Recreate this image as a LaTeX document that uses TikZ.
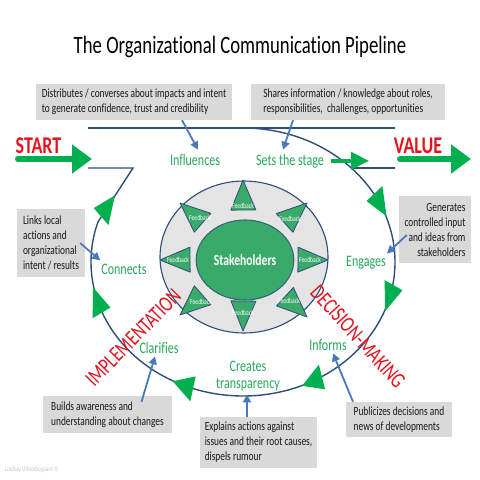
\documentclass[tikz,border=0pt]{standalone}
\usepackage{fontspec}
\setmainfont{Carlito}[FakeStretch=0.75, Ligatures=NoCommon]
\usetikzlibrary{arrows.meta,shapes.geometric}
\definecolor{lineblue}{HTML}{2E4D7B}
\definecolor{arrblue}{HTML}{4A78BE}
\definecolor{arrgreen}{HTML}{00B050}
\definecolor{labgreen}{HTML}{27A85A}
\definecolor{trigreen}{HTML}{3AAA6A}
\definecolor{textred}{HTML}{E3141E}
\definecolor{boxgray}{HTML}{D9D9D9}
\definecolor{ellgray}{HTML}{E4E4E4}
\begin{document}
\begin{tikzpicture}[x=1pt,y=-1pt,
 lbl/.style={text=labgreen, font=\fontsize{16}{17.5}\selectfont, inner sep=1pt},
 infobox/.style={fill=boxgray, text=black!90, align=left, inner sep=0pt, font=\fontsize{12.5}{15}\selectfont},
 barrow/.style={draw=arrblue, line width=1.8pt, -{Triangle[length=8pt,width=8pt]}},
 pipe/.style={draw=lineblue, line width=1.4pt},
 bigarrow/.style={draw=arrgreen, line width=6pt, line cap=round, -{Triangle[length=20pt,width=28pt]}},
 midarrow/.style={draw=arrgreen, line width=4pt, -{Triangle[length=18pt,width=17pt]}},
 redtxt/.style={text=textred, font=\fontsize{22.5}{24}\selectfont, inner sep=0pt},
 fbtext/.style={text=white, font=\fontsize{7.5}{8}\selectfont, inner sep=0pt},
 fbtri/.style={fill=trigreen, draw=lineblue, line width=0.8pt, line join=round},
]
\useasboundingbox[fill=white] (0,0) rectangle (480,480);

% title
\node[anchor=base, font=\fontsize{25}{30}\selectfont] (title) at (240,53) {The Organizational Communication Pipeline};

% pipe / big ellipse
\draw[pipe] (88,128) -- (395,128);
\draw[pipe] (351,168) -- (395,168);
\draw[pipe] (243,128) arc[start angle=-90, end angle=197.4, x radius=152, y radius=134] -- (133,168) -- (88,168);

% green arrowheads along the pipe
\foreach \t in {-25.2, 15.6, 63, 113.3, 163.5} {
  \pgfmathsetmacro\px{243+152*cos(\t)}
  \pgfmathsetmacro\py{262+134*sin(\t)}
  \pgfmathsetmacro\a{atan2(134*cos(\t), -152*sin(\t)/0.75)}
  \fill[arrgreen] ({\px+0.75*14*cos(\a)},{\py+14*sin(\a)})
     -- ({\px+0.75*(-14*cos(\a)-13*sin(\a))},{\py-14*sin(\a)+13*cos(\a)})
     -- ({\px+0.75*(-14*cos(\a)+13*sin(\a))},{\py-14*sin(\a)-13*cos(\a)}) -- cycle;
}
\pgfmathsetmacro\px{108}
\pgfmathsetmacro\py{206}
\pgfmathsetmacro\a{atan2(-54,46.7)}
\fill[arrgreen] ({\px+0.75*14*cos(\a)},{\py+14*sin(\a)})
   -- ({\px+0.75*(-14*cos(\a)-13*sin(\a))},{\py-14*sin(\a)+13*cos(\a)})
   -- ({\px+0.75*(-14*cos(\a)+13*sin(\a))},{\py-14*sin(\a)-13*cos(\a)}) -- cycle;

% START / VALUE
\node[anchor=base, text=textred, font=\bfseries\fontsize{24}{26}\selectfont, inner sep=0pt] (start) at (38.5,153) {START};
\node[anchor=base, text=textred, font=\bfseries\fontsize{24}{26}\selectfont, inner sep=0pt] (value) at (418,153) {VALUE};
\coordinate (s1) at (18,159);
\coordinate (s2) at (92,159);
\coordinate (v1) at (400,159);
\coordinate (v2) at (471,159);
\draw[bigarrow] (s1) -- (s2);
\draw[bigarrow] (v1) -- (v2);

% inner ellipse with feedback
\node[ellipse, draw=lineblue, fill=ellgray, line width=1.1pt, minimum width=168pt, minimum height=152pt] (ring) at (244,257) {};
\foreach \ax/\ay/\tx/\ty [count=\i] in {243/180/243/206, 307/203/290/219, 328/260/310/260, 307/317/289/301, 243/331/243/313, 180/315/201/302, 160/260/178/260, 180/203/200/218} {
  \pgfmathsetmacro\a{atan2(\ay-259,\ax-244)}
  \draw[fbtri] (\ax,\ay)
    -- ({\ax-30*cos(\a)-12.5*sin(\a)},{\ay-30*sin(\a)+12.5*cos(\a)})
    -- ({\ax-30*cos(\a)+12.5*sin(\a)},{\ay-30*sin(\a)-12.5*cos(\a)}) -- cycle;
  \node[fbtext] (fb\i) at (\tx,\ty) {Feedback};
}
\node[ellipse, draw=lineblue!70!trigreen, fill=trigreen, line width=1.1pt, minimum width=94pt, minimum height=80pt, text=white, font=\bfseries\fontsize{15.5}{17}\selectfont] (stake) at (245,260) {Stakeholders};

% green labels
\node[lbl, anchor=base] (infl) at (195,165) {Influences};
\node[lbl, anchor=base] (sets) at (290,165) {Sets the stage};
\node[lbl, anchor=base] (eng) at (366,266) {Engages};
\node[lbl, anchor=base] (conn) at (124,274) {Connects};
\node[lbl, anchor=base] (inf) at (328,350) {Informs};
\node[lbl, anchor=base] (clar) at (159,353) {Clarifies};
\node[lbl, align=center] (crt) at (248,376) {Creates\\transparency};
\draw[midarrow] ([xshift=6pt]sets.east) -- ++(38,0);

% red rotated texts
\node[redtxt, rotate=45.6] (impl) at (133.3,337.5) {IMPLEMENTATION};
\node[redtxt, rotate=-47.9] (dec) at (358,336.7) {DECISION-MAKING};

% info boxes
\node[infobox, minimum width=196pt, minimum height=36pt] (b1) at (134,102) {Distributes / converses about impacts and intent\\to generate confidence, trust and credibility};
\node[infobox, minimum width=194pt, minimum height=36pt] (b2) at (348,102) {Shares information / knowledge about roles,\\responsibilities,\ \ challenges, opportunities};
\node[infobox, minimum width=68pt, minimum height=68pt] (b3) at (51,243) {Links local\\actions and\\organizational\\intent / results};
\node[infobox, align=right, minimum width=72pt, minimum height=67pt] (b4) at (435,229.5) {Generates\\controlled input\\and ideas from\\stakeholders};
\node[infobox, minimum width=129pt, minimum height=37pt] (b5) at (107.5,414.5) {Builds awareness and\\understanding about changes};
\node[infobox, minimum width=117pt, minimum height=51pt] (b6) at (258.5,442.5) {Explains actions against\\issues and their root causes,\\dispels rumour};
\node[infobox, minimum width=106pt, minimum height=35pt] (b7) at (399,419.5) {Publicizes decisions and\\news of developments};

% blue arrows
\draw[barrow] ([xshift=48pt]b1.south) -- ([xshift=3pt,yshift=3pt]infl.north);
\draw[barrow] ([xshift=-55pt]b2.south) -- ([xshift=-7pt,yshift=3pt]sets.north);
\draw[barrow] ([xshift=-5pt]b3.east) -- ([yshift=2pt]conn.north west);
\draw[barrow] ([xshift=8pt,yshift=-5.5pt]b4.west) -- ([yshift=1pt]eng.north east);
\draw[barrow] ([xshift=34pt,yshift=-6pt]b5.north) -- ([xshift=-4pt,yshift=-2pt]clar.south);
\draw[barrow] ([xshift=-11.5pt]b6.north) -- ([xshift=-1pt,yshift=-2pt]crt.south);
\draw[barrow] ([xshift=-46pt]b7.north) -- ([xshift=5pt,yshift=-2pt]inf.south);

% credit
\node[anchor=west, text=black!22, font=\fontsize{7}{8}\selectfont, inner sep=0pt] (credit) at (5,470) {Lindsay Uittenbogaard ©};
\end{tikzpicture}
\end{document}
